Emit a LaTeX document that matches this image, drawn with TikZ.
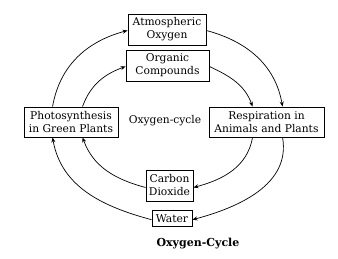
\documentclass[tikz,border=0pt]{standalone}
\usepackage{fontspec}
\setmainfont{DejaVu Serif}
\usetikzlibrary{arrows.meta}
\begin{document}
\begin{tikzpicture}[x=1pt,y=1pt,
  box/.style={draw,line width=0.9pt,align=center,inner sep=0pt,font=\fontsize{10.7}{13}\selectfont},
  lbl/.style={font=\fontsize{10.7}{12}\selectfont},
  arr/.style={line width=0.7pt,-{Stealth[length=5pt,width=4pt]}}]
\useasboundingbox (0,0) rectangle (338,258);
\node[box,minimum width=78pt,minimum height=31pt] (atm) at (167,228.5) {Atmospheric\\Oxygen};
\node[box,minimum width=83pt,minimum height=31pt] (org) at (167.5,192.5) {Organic\\Compounds};
\node[box,minimum width=94pt,minimum height=30pt] (pho) at (71,136) {Photosynthesis\\in Green Plants};
\node[box,minimum width=115pt,minimum height=30pt] (res) at (266.5,136) {Respiration in\\Animals and Plants};
\node[box,minimum width=47pt,minimum height=31pt] (co2) at (169.5,72.5) {Carbon\\Dioxide};
\node[box,minimum width=40pt,minimum height=16pt] (wat) at (172,39.3) {Water};
\node[lbl] (oc) at (165,137) {Oxygen-cycle};
\node[lbl,font=\fontsize{11}{12}\selectfont\bfseries] (cap) at (198,14) {Oxygen-Cycle};
\coordinate (p1) at ([xshift=29pt]pho.north west);
\coordinate (p2) at ([xshift=59pt]pho.north west);
\coordinate (p3) at ([xshift=29pt]pho.south west);
\coordinate (p4) at ([xshift=59pt]pho.south west);
\coordinate (r1) at ([xshift=44pt]res.north west);
\coordinate (r2) at ([xshift=74pt]res.north west);
\coordinate (r3) at ([xshift=44pt]res.south west);
\coordinate (r4) at ([xshift=74pt]res.south west);
\draw[arr] (p1) to[out=80,in=195] ([yshift=-1pt]atm.west);
\draw[arr] (p2) to[out=70,in=200] ([yshift=-1pt]org.west);
\draw[arr] ([yshift=-1pt]atm.east) to[out=-15,in=100] (r2);
\draw[arr] ([yshift=-1pt]org.east) to[out=-25,in=110] (r1);
\draw[arr] (r3) to[out=-100,in=15] ([yshift=-2pt]co2.east);
\draw[arr] (r4) to[out=-80,in=15] ([yshift=-1pt]wat.east);
\draw[arr] ([yshift=-2pt]co2.west) to[out=165,in=-70] (p4);
\draw[arr] ([yshift=-1pt]wat.west) to[out=165,in=-80] (p3);
\end{tikzpicture}
\end{document}
